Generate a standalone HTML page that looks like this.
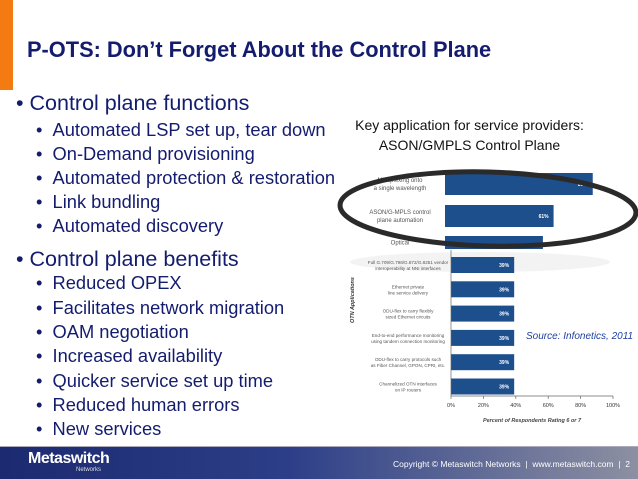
<!DOCTYPE html>
<html><head><meta charset="utf-8"><style>
body{margin:0;width:638px;height:478px;overflow:hidden;background:#fff;font-family:"Liberation Sans",sans-serif;position:relative}
.a{position:absolute;white-space:nowrap}
.t{color:#141c6e}
.s{font-size:18.3px}
.b{font-size:21.5px}
</style></head><body>
<div class="a" style="left:0;top:0;width:13px;height:90px;background:#f47a12"></div>
<div class="a t" style="left:27px;top:37px;font-size:21.8px;font-weight:bold">P-OTS: Don’t Forget About the Control Plane</div>
<div>
<div class="a t b" style="left:16px;top:91px">• Control plane functions</div>
<div class="a t s" style="left:36px;top:119px">• &nbsp;Automated LSP set up, tear down</div>
<div class="a t s" style="left:36px;top:143px">• &nbsp;On-Demand provisioning</div>
<div class="a t s" style="left:36px;top:167px">• &nbsp;Automated protection &amp; restoration</div>
<div class="a t s" style="left:36px;top:191px">• &nbsp;Link bundling</div>
<div class="a t s" style="left:36px;top:215px">• &nbsp;Automated discovery</div>
<div class="a t b" style="left:16px;top:247px">• Control plane benefits</div>
<div class="a t s" style="left:36px;top:272px">• &nbsp;Reduced OPEX</div>
<div class="a t s" style="left:36px;top:297px">• &nbsp;Facilitates network migration</div>
<div class="a t s" style="left:36px;top:321px">• &nbsp;OAM negotiation</div>
<div class="a t s" style="left:36px;top:345px">• &nbsp;Increased availability</div>
<div class="a t s" style="left:36px;top:370px">• &nbsp;Quicker service set up time</div>
<div class="a t s" style="left:36px;top:394px">• &nbsp;Reduced human errors</div>
<div class="a t s" style="left:36px;top:418px">• &nbsp;New services</div>
</div>
<div class="a" style="left:332px;top:115px;width:275px;text-align:center;font-size:14px;line-height:20px;color:#111">Key application for service providers:<br>ASON/GMPLS Control Plane</div>
<div class="a" style="left:526px;top:331px;font-size:10px;font-style:italic;color:#2040a0">Source: Infonetics, 2011</div>
<svg class="a" style="left:0;top:0" width="638" height="478" id="chart"></svg>
<div class="a" style="left:0;top:446px;width:638px;height:32px;background:linear-gradient(90deg,#1c2a70 0%,#2c3e88 45%,#8d90a2 100%);border-top:1px solid #aab">
<div class="a" style="left:28px;top:3px;color:#fff;font-weight:bold;font-size:16px;letter-spacing:-0.5px">Metaswitch</div>
<div class="a" style="left:76px;top:20px;color:#ddd;font-size:6px">Networks</div>
<div class="a" style="left:393px;top:12px;color:#fff;font-size:8.5px">Copyright © Metaswitch Networks &nbsp;| &nbsp;www.metaswitch.com &nbsp;| &nbsp;2</div>
</div>
<script>
const categories=["Multiplexing onto a single wavelength","ASON/G-MPLS control plane automation","Optical","Full G.709/G.798/G.872/G.8251 vendor interoperability at NNI interfaces","Ethernet private line service delivery","ODU-flex to carry flexibly sized Ethernet circuits","End-to-end performance monitoring using tandem connection monitoring","ODU-flex to carry protocols such as Fiber Channel, GPON, CPRI, etc.","Channelized OTN interfaces on IP routers"];
const values=[83,61,55,39,39,39,39,39,39];
const ticks=[0,20,40,60,80,100];
const svg=document.getElementById('chart');const NS='http://www.w3.org/2000/svg';
function mk(t,a){const e=document.createElementNS(NS,t);for(const k in a)e.setAttribute(k,a[k]);svg.appendChild(e);return e;}
const x0=451,x1=613;const xs=v=>x0+(x1-x0)*v/100;
const xsTop=v=>445+178*v/100;
const topY=[173,205,236],topH=[22,22,13];
const yLow=i=>257+(i-3)*24.3;
mk('ellipse',{cx:480,cy:262,rx:130,ry:10,fill:'#ddd',opacity:0.35});
values.forEach((v,i)=>{let x,y,h,w;
 if(i<3){x=445;y=topY[i];h=topH[i];w=xsTop(v)-445;}else{x=x0;y=yLow(i);h=16;w=xs(v)-x0;}
 const r=mk('rect',{x:x,y:y,width:w,height:h,fill:'#1d4f8c'});
 
 if(i!=2){const t=mk('text',{x:x+w-5,y:y+h/2+2,'font-size':5,'font-weight':'bold',fill:'#fff','text-anchor':'end'});t.textContent=v+'%';}
 const words=categories[i];const mid=Math.ceil(words.length/2);let sp=words.indexOf(' ',mid-4);if(words.length<36)sp=-1;
 const lines=sp>0?[words.slice(0,sp),words.slice(sp+1)]:[words];
 lines.forEach((ln,j)=>{const t=mk('text',{x:i<3?400:408,y:y+h/2+2+(j-(lines.length-1)/2)*(i<3?8:6),'font-size':i<3?6:4.6,fill:'#555','text-anchor':'middle'});
  t.textContent=ln;});
});
mk('line',{x1:x0,y1:396,x2:x1,y2:396,stroke:'#666','stroke-width':0.7});
mk('line',{x1:x0,y1:250,x2:x0,y2:396,stroke:'#666','stroke-width':0.7});
ticks.forEach(v=>{mk('line',{x1:xs(v),y1:396,x2:xs(v),y2:399,stroke:'#666','stroke-width':0.7});
 const t=mk('text',{x:xs(v),y:407,'font-size':5.5,fill:'#333','text-anchor':'middle'});t.textContent=v+'%';
 });
const xt=mk('text',{x:532,y:422,'font-size':5.5,'font-weight':'bold','font-style':'italic',fill:'#444','text-anchor':'middle'});xt.textContent='Percent of Respondents Rating 6 or 7';

const yt=mk('text',{x:0,y:0,'font-size':5.5,'font-weight':'bold','font-style':'italic',fill:'#333','text-anchor':'middle',transform:'translate(354,300) rotate(-90)'});yt.textContent='OTN Applications';

const el=mk('ellipse',{cx:488,cy:209,rx:148,ry:37,fill:'none',stroke:'#2a2a2a','stroke-width':5,transform:'rotate(1.5 488 209)'});

</script>
</body></html>
